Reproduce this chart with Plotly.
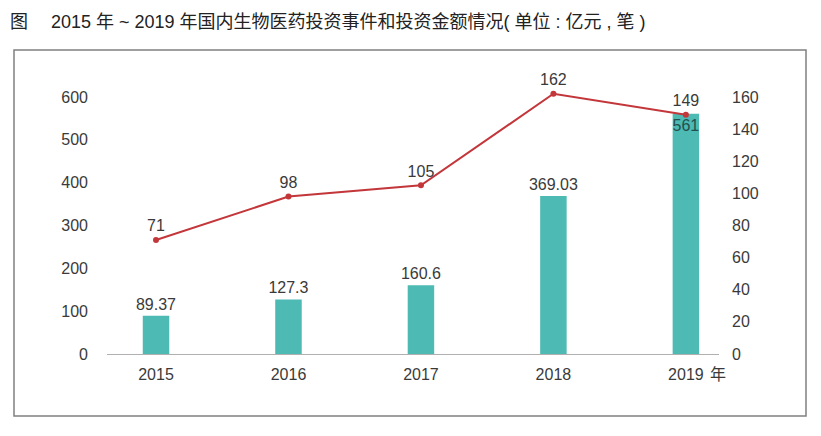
import plotly.graph_objects as go

years = ["2015", "2016", "2017", "2018", "2019"]
amounts = [89.37, 127.3, 160.6, 369.03, 561]      # 投资金额（亿元）
amount_labels = ["89.37", "127.3", "160.6", "369.03", "561"]
events = [71, 98, 105, 162, 149]                   # 投资事件（笔）
left_ticks = [0, 100, 200, 300, 400, 500, 600]
right_ticks = [0, 20, 40, 60, 80, 100, 120, 140, 160]

W, H = 821, 436
Y0, Y600 = 354, 97          # pixel rows of value 0 and top tick
TOP = 60                    # plot area top (room for labels)
L, R, T, B = 107, W - 719, TOP, H - Y0
pw, ph = W - L - R, H - T - B
k = (Y0 - TOP) / (Y0 - Y600)

FONT = "Liberation Sans, Noto Sans CJK SC, sans-serif"
TXT = "#3a3a3a"

fig = go.Figure()
fig.add_trace(go.Bar(
    x=years, y=amounts, width=0.2,
    marker=dict(color="#4dbab3", line=dict(width=0)),
    text=amount_labels,
    textposition=["outside"] * 4 + ["inside"],
    insidetextanchor="end", textangle=0, constraintext="none",
    textfont=dict(size=16, color=TXT, family=FONT),
    outsidetextfont=dict(size=16, color=TXT, family=FONT),
    insidetextfont=dict(size=16, color="#234f4d", family=FONT),
    cliponaxis=False, yaxis="y",
))
fig.add_trace(go.Scatter(
    x=years, y=events, yaxis="y2", mode="lines+markers+text",
    line=dict(color="#c3363a", width=2),
    marker=dict(color="#c3363a", size=6),
    text=[str(v) for v in events], textposition="top center",
    textfont=dict(size=16, color=TXT, family=FONT),
    cliponaxis=False,
))

fig.update_layout(
    width=W, height=H, margin=dict(l=L, r=R, t=T, b=B),
    paper_bgcolor="white", plot_bgcolor="white", showlegend=False,
    font=dict(family=FONT, color=TXT, size=16),
    title=dict(text="图\u3000 2015 年 ~ 2019 年国内生物医药投资事件和投资金额情况( 单位 : 亿元 , 笔 )",
               xref="container", yref="container", x=10 / W, y=1 - 22 / H,
               xanchor="left", yanchor="middle",
               font=dict(size=18, color="#222", family="Liberation Sans, Noto Sans CJK SC")),
    xaxis=dict(type="category", range=[-0.37, 4.25], showgrid=False, zeroline=False,
               showline=True, linecolor="#b0b0b0", linewidth=1, ticks="",
               tickfont=dict(size=16, color=TXT), ticklabelstandoff=6),
    yaxis=dict(range=[0, 600 * k], tickvals=left_ticks, showgrid=False, zeroline=False,
               showline=False, ticks="", tickfont=dict(size=16, color=TXT),
               ticklabelstandoff=18),
    yaxis2=dict(range=[0, 160 * k], tickvals=right_ticks, overlaying="y", side="right",
                showgrid=False, zeroline=False, showline=False, ticks="",
                tickfont=dict(size=16, color=TXT), ticklabelstandoff=12),
    shapes=[dict(type="rect", xref="paper", yref="paper",
                 x0=(14 - L) / pw, x1=(806 - L) / pw,
                 y0=(Y0 - 416) / ph, y1=(Y0 - 50) / ph,
                 line=dict(color="#808080", width=1.5), fillcolor="rgba(0,0,0,0)", layer="below")],
    annotations=[dict(text="年", xref="paper", yref="paper", x=(718 - L) / pw, y=-(373 - Y0) / ph,
                      xanchor="center", yanchor="middle", showarrow=False,
                      font=dict(size=16, color=TXT, family="Noto Sans CJK SC"))],
)

fig.write_html("out.html")
